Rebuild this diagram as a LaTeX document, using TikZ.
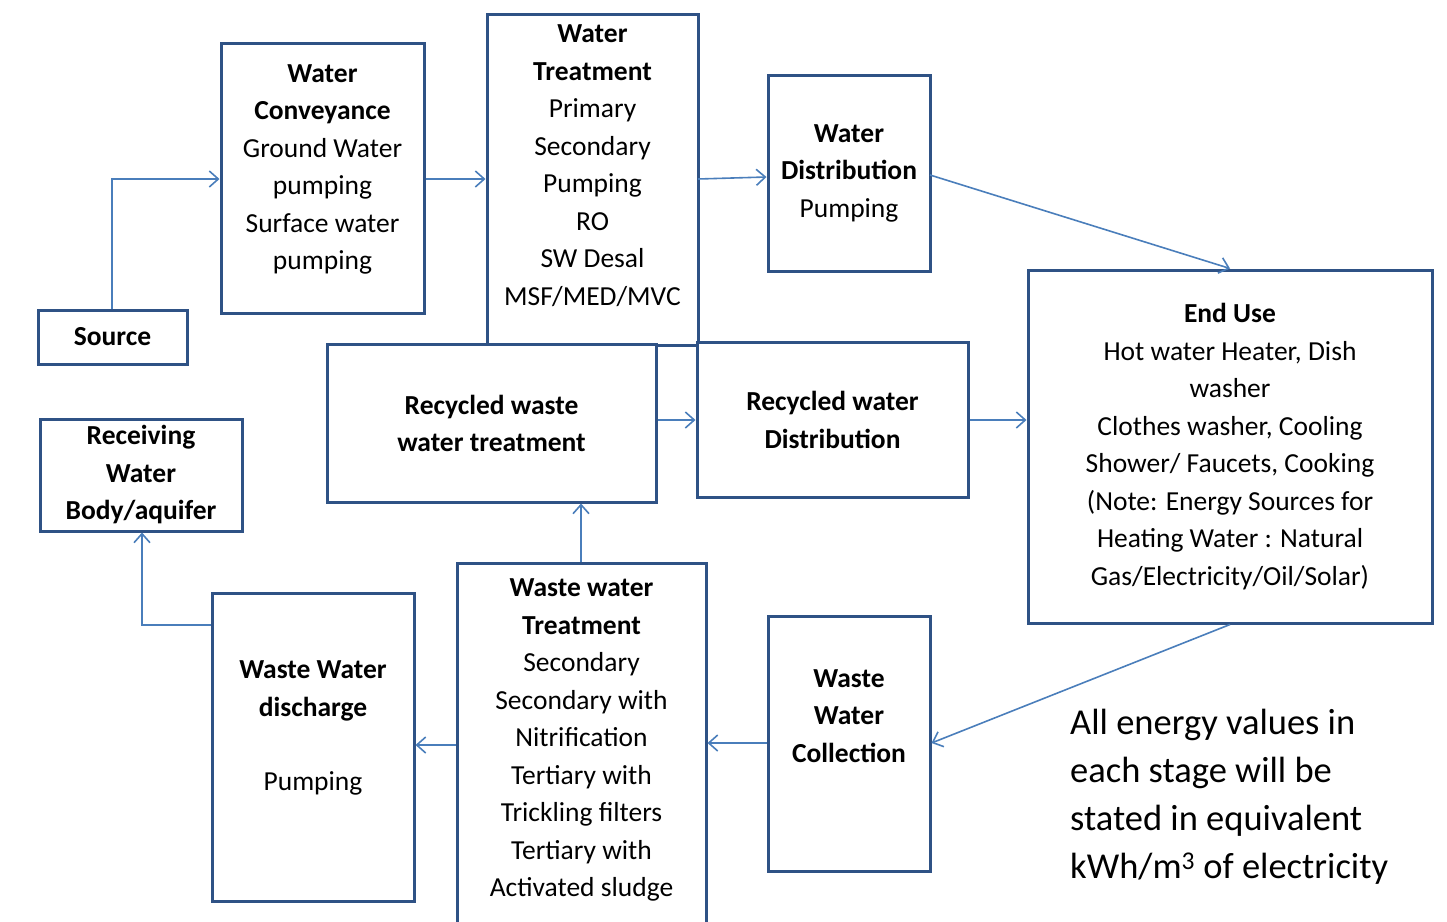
\documentclass[tikz,border=0pt]{standalone}
\usepackage{fontspec}
\setmainfont{Carlito}
\usetikzlibrary{arrows.meta}
\definecolor{boxc}{HTML}{2F5285}
\definecolor{arrc}{HTML}{4A7EBB}
\newcommand{\pad}{\rule{0pt}{0pt}}
\begin{document}
\begin{tikzpicture}[x=1pt,y=-1pt,
 box/.style={draw=boxc,line width=3pt,fill=white,align=center,inner sep=0pt,
   font=\fontsize{27.5}{37.5}\selectfont},
 arr/.style={draw=arrc,line width=1.6pt,-{Straight Barb[length=9pt,width=16pt]}}]
\useasboundingbox (0,0) rectangle (1447,921);
\newcommand{\bx}[6]{\node[box,minimum width=#4-#2,minimum height=#5-#3] (#1) at ({(#2+#4)/2},{(#3+#5)/2}) {#6};}
\bx{src}{38}{310}{187}{364}{\pad\\[-19.5pt]\textbf{Source}}
\bx{conv}{221}{43}{424}{313}{\textbf{Water}\\\textbf{Conveyance}\\Ground Water\\pumping\\Surface water\\pumping\\[-16pt]}
\node[box,minimum width=211,minimum height=331,
 label={[align=center,font=\fontsize{27.5}{37.5}\selectfont,anchor=north,yshift=-9pt]north:{\textbf{Water}\\\textbf{Treatment}\\Primary\\Secondary\\Pumping\\RO\\SW Desal\\MSF/MED/MVC}}] (treat) at (592.5,179.5) {};
\bx{dist}{768}{75}{930}{271}{\textbf{Water}\\\textbf{Distribution}\\Pumping}
\bx{end}{1028}{270}{1432}{623}{\textbf{End Use}\\Hot water Heater, Dish\\washer\\Clothes washer, Cooling\\Shower/ Faucets, Cooking\\(Note: Energy Sources for\\Heating Water : Natural\\Gas/Electricity/Oil/Solar)}
\bx{rwt}{327}{344}{656}{502}{\pad\\[-17.5pt]\textbf{Recycled waste}\\\textbf{water treatment}}
\bx{rwd}{697}{342}{968}{497}{\pad\\[-17.5pt]\textbf{Recycled water}\\\textbf{Distribution}}
\bx{recv}{40}{419}{242}{531}{\textbf{Receiving}\\\textbf{Water}\\\textbf{Body/aquifer}}
\bx{disch}{212}{593}{414}{901}{\textbf{Waste Water}\\\textbf{discharge}\\[37pt]Pumping\\[4.5pt]}
\bx{wwt}{457}{563}{706}{925}{\textbf{Waste water}\\\textbf{Treatment}\\Secondary\\Secondary with\\Nitrification\\Tertiary with\\Trickling filters\\Tertiary with\\Activated sludge\\[-25.5pt]}
\bx{coll}{768}{616}{930}{871}{\textbf{Waste}\\\textbf{Water}\\\textbf{Collection}\\[18pt]}
\node[align=left,anchor=north west,inner sep=0pt,font=\fontsize{36.5}{48}\selectfont] (note) at (1070,709)
 {All energy values in\\each stage will be\\stated in equivalent\\kWh/m\textsuperscript{3} of electricity};
\draw[arr] (src.north -| 112,0) -- (112,179) -- (conv.west |- 0,179);
\draw[arr] (conv.east |- 0,179) -- (treat.west |- 0,179);
\draw[arr] (698,179) -- (dist.west |- 0,177);
\draw[arr] (930,175) -- (end.north);
\draw[arr] (rwt.east |- 0,420) -- (rwd.west |- 0,420);
\draw[arr] (rwd.east |- 0,420) -- (end.west |- 0,420);
\draw[arr] (end.south) -- (coll.east |- 0,743);
\draw[arr] (coll.west |- 0,743) -- (wwt.east |- 0,743);
\draw[arr] (wwt.west |- 0,745) -- (disch.east |- 0,745);
\draw[arr] (wwt.north -| 581,0) -- (rwt.south -| 581,0);
\draw[arr] (disch.west |- 0,625) -- (142,625) -- (recv.south -| 142,0);
\end{tikzpicture}
\end{document}
